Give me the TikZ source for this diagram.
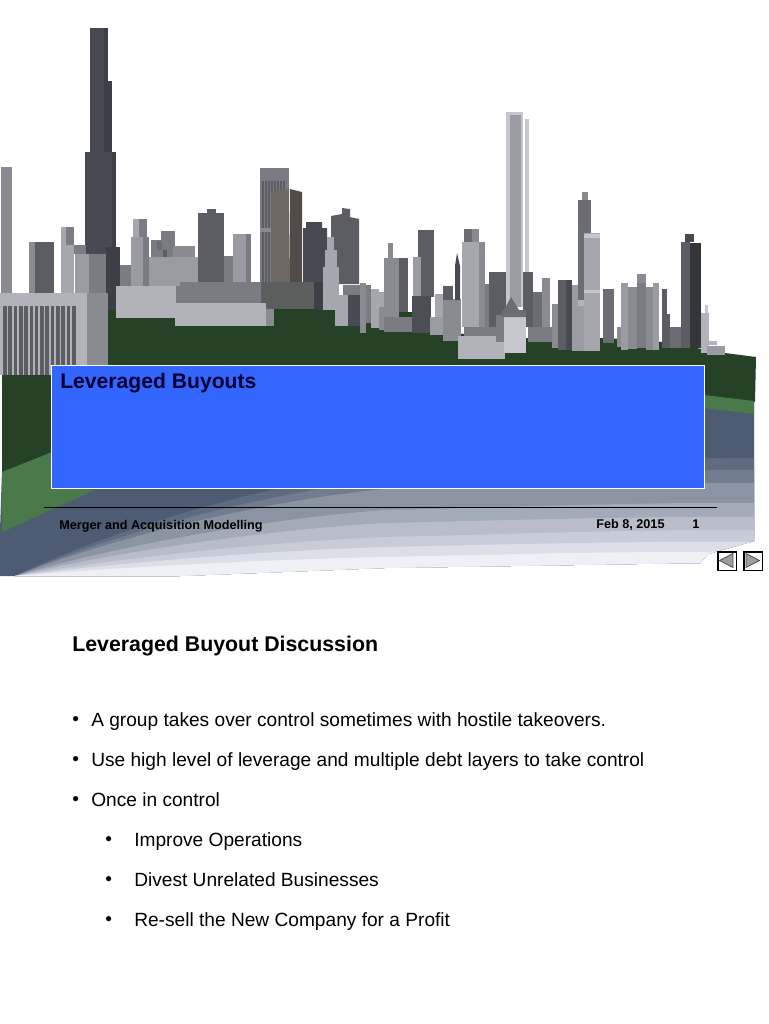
\documentclass[tikz,border=0pt]{standalone}
\usepackage{fontspec}
\setmainfont{Liberation Sans}
\definecolor{tonea}{HTML}{34363C}
\definecolor{toneb}{HTML}{474A52}
\definecolor{tonec}{HTML}{5B5D63}
\definecolor{toned}{HTML}{6C6D74}
\definecolor{tonee}{HTML}{7B7C83}
\definecolor{tonef}{HTML}{8A8B90}
\definecolor{toneg}{HTML}{9B9CA3}
\definecolor{toneh}{HTML}{A6A7AE}
\definecolor{tonei}{HTML}{B2B3BA}
\definecolor{tonej}{HTML}{C6C7CE}
\definecolor{toneslate}{HTML}{5A5E5C}
\definecolor{toneink}{HTML}{3D3F47}
\definecolor{toneplum}{HTML}{4C4E56}
\definecolor{brickface}{HTML}{6F6763}
\definecolor{brickside}{HTML}{524C48}
\definecolor{grassdark}{HTML}{254226}
\definecolor{grasslight}{HTML}{4A7A4A}
\definecolor{slidetitle}{HTML}{3366FF}
\definecolor{titleink}{HTML}{000033}
\definecolor{waterbase}{HTML}{4D5B73}
\definecolor{bandone}{HTML}{5E6B80}
\definecolor{bandtwo}{HTML}{717C8E}
\definecolor{bandthree}{HTML}{8A94A3}
\definecolor{bandfour}{HTML}{A3ABB8}
\definecolor{bandfive}{HTML}{B8BDC9}
\definecolor{bandsix}{HTML}{C8CCD7}
\definecolor{bandseven}{HTML}{DCDFE7}
\definecolor{bandeight}{HTML}{EFF0F6}
\tikzset{
  titletext/.style={anchor=base west,font=\bfseries\fontsize{15.85}{18}\selectfont,text=titleink,inner sep=0pt},
  foottext/.style={anchor=base west,font=\bfseries\fontsize{9.5}{11}\selectfont,text=black,inner sep=0pt},
  headtext/.style={anchor=base west,font=\bfseries\fontsize{16}{19}\selectfont,inner sep=0pt},
  listtext/.style={anchor=base west,font=\fontsize{14.35}{17}\selectfont,inner sep=0pt},
  navbox/.style={draw=black,line width=1.3pt,fill=white},
  navtip/.style={draw=black!70,line width=.6pt,fill=black!38}
}
\begin{document}
\begin{tikzpicture}[x=.75pt,y=-.75pt]
  \useasboundingbox (0,0) rectangle (768,1024);

  % water, fanning out from the lower left
  \begin{scope}
    \clip (0,530) -- (2,470) -- (60,449) -- (704,400) -- (754,400) -- (754,541) -- (708,554) -- (700,563) -- (384,568) -- (180,576) -- (0,576) -- cycle;
    \fill[waterbase] (0,400) rectangle (768,580);
    \foreach \bandcol/\ymid/\yend in {
        bandone/470/458, bandtwo/480/470, bandthree/489/483,
        bandfour/510/503, bandfive/523/517, bandsix/537/530,
        bandseven/547/542, bandeight/557/552} {
      \pgfmathsetmacro{\yctl}{\ymid+(576-\ymid)*.57}
      \pgfmathsetmacro{\yctr}{\ymid+(576-\ymid)*.14}
      \fill[\bandcol] (15,576)
        .. controls (110,\yctl) and (260,\yctr) .. (384,\ymid)
        .. controls (520,\ymid-3) and (640,\yend-1) .. (760,\yend)
        -- (760,580) -- (15,580) -- cycle;
    }
  \end{scope}

  % grass
  \fill[grassdark] (108,309) -- (330,309) -- (366,318) -- (384,324) -- (430,330) -- (500,338) -- (600,338) -- (650,340) -- (725,353) -- (756,357) -- (755,402) -- (704,396) -- (704,370) -- (108,370) -- cycle;
  \fill[grassdark] (399,312) rectangle (412,330);
  \fill[grasslight] (704,395) -- (754,401) -- (754,414) -- (704,408) -- cycle;
  \fill[grassdark] (2,375) -- (60,375) -- (60,449) -- (2,472) -- cycle;
  \fill[grasslight] (2,472) -- (60,449) -- (60,488) -- (95,490) -- (2,532) -- cycle;

  % skyline, back to front
  \foreach \bcol/\xa/\ya/\xb/\yb in {
      tonef/1/167/12/293, toneb/90/28/108/200, toneink/104/28/108/152, toneink/108/81/112/152,
      toneb/85/152/116/300, toneink/112/152/116/248, toneink/106/247/120/310,
      tonef/29/242/35/293, tonec/35/242/54/293,
      toneh/61/227/74/293, tonee/66/227/74/245, tonee/74/245/86/254,
      toneg/75/254/89/293, tonee/89/254/106/293,
      tonee/120/265/131/286, toneg/131/237/143/286, tonee/143/237/149/286,
      toneh/133/219/139/237, tonee/139/219/147/237,
      tonee/151/240/173/257, tonee/161/231/175/257, toned/157/241/162/250, tonec/163/250/167/257,
      tonef/173/246/195/257, toneg/149/257/215/286,
      tonec/198/213/224/282, tonec/207/209/216/213, tonee/224/256/235/282,
      toneg/233/234/246/282, tonee/246/234/251/282,
      tonee/260/168/289/282} {
    \fill[\bcol] (\xa,\ya) rectangle (\xb,\yb);
  }
  % ribs on the striped tower
  \foreach \ribx in {262,265,...,283} {
    \fill[tonec] (\ribx,181) rectangle (\ribx+1.6,282);
  }
  \fill[tonef] (260,228) rectangle (271,232);
  \fill[brickface] (271,192) -- (289,189) -- (290,282) -- (271,282) -- cycle;
  \fill[brickside] (290,189) -- (302,192) -- (302,282) -- (290,282) -- cycle;
  \fill[toneb] (303,228) -- (306,228) -- (306,222) -- (322,222) -- (322,228) -- (327,228) -- (327,283) -- (303,283) -- cycle;
  \fill[tonec] (331,216) -- (342,214) -- (342,208) -- (350,209) -- (350,217) -- (359,219) -- (359,284) -- (331,284) -- cycle;

  \foreach \bcol/\xa/\ya/\xb/\yb in {
      toneh/327/237/334/250, toneh/325/250/337/267, toneh/323/267/339/310,
      tonei/116/286/176/318, tonee/176/286/180/303, tonee/180/282/261/303,
      toneslate/261/282/314/309, toneink/314/282/323/310,
      tonei/175/303/266/326, tonef/266/309/274/326,
      toneh/335/295/348/326, toneb/348/295/360/326, tonee/343/285/367/295,
      tonef/360/283/366/333, tonee/366/285/371/323, toneh/371/289/379/328,
      toneh/379/292/384/330, tonef/379/307/384/330,
      % right half of the skyline
      tonef/388/243/393/258, tonef/384/258/399/317, tonec/399/258/408/312, tonee/384/317/417/332,
      tonec/418/230/434/297, toneg/413/257/421/297, toneplum/412/296/431/333,
      toneg/430/317/461/335, toneh/435/294/443/317, tonef/443/299/461/341, tonec/443/286/453/300,
      toneh/462/242/479/327, tonef/479/242/485/327, toned/464/229/472/242, tonef/472/229/479/242,
      tonee/485/284/490/327, tonec/489/272/506/327,
      tonej/506/112/523/307, toneg/510/115/521/307, tonej/525/119/529/320,
      tonec/523/272/533/327, toned/533/292/542/327, tonef/542/278/550/327,
      tonee/528/327/552/342, tonef/552/304/561/348, tonec/558/280/566/350,
      toneb/566/280/572/350, toneg/572/285/584/351,
      toned/578/200/591/300, tonef/582/192/588/200, tonei/578/300/584/306,
      toneh/584/233/600/351, tonej/584/234/600/238, tonej/584/290/600/293,
      toned/603/289/614/343,
      tonef/617/327/659/347, toneg/621/283/628/350, tonef/628/287/637/349,
      tonee/637/283/646/348, tonef/637/274/646/283, tonef/646/287/653/350, toneg/653/283/659/350,
      tonec/662/289/667/348, tonec/667/314/670/348, toned/670/327/681/348,
      tonec/681/242/690/348, tonea/690/243/701/348, toneb/685/234/694/242,
      tonej/705/305/708/313, tonei/701/313/709/353, tonei/709/341/717/345, toneg/707/346/725/355,
      tonee/464/327/497/336, tonei/458/336/505/359, tonee/496/315/505/342, tonej/504/317/526/353} {
    \fill[\bcol] (\xa,\ya) rectangle (\xb,\yb);
  }
  \fill[toned] (511,297) -- (519,310) -- (526,310) -- (526,317) -- (502,317) -- (502,310) -- (504,310) -- cycle;
  \fill[toneb] (455,266) -- (457,253) -- (460,266) -- (460,300) -- (455,300) -- cycle;

  % low block with the window grille
  \fill[tonei] (0,293) rectangle (87,375);
  \fill[tonef] (87,293) rectangle (108,370);
  \foreach \ribx in {3,8.3,...,75} {
    \fill[tonec] (\ribx,306) rectangle (\ribx+3.6,375);
  }

  % title panel and footer
  \node[draw=white,fill=slidetitle,line width=.8pt,minimum width=490pt,minimum height=92pt,inner sep=0pt,anchor=north west] (titlebox) at (51,365) {};
  \node[titletext] (slidename) at (60,388) {Leveraged Buyouts};
  \coordinate (ruleleft) at (44,507);
  \coordinate (ruleright) at (717,507);
  \draw[black,line width=.6pt] (ruleleft) -- (ruleright);
  \node[foottext] (course) at (59,529.5) {Merger and Acquisition Modelling};
  \node[foottext] (datestamp) at (596,528) {Feb 8, 2015};
  \node[foottext] (pagenum) at (692,528) {1};

  % previous / next buttons
  \node[navbox,minimum size=14pt,inner sep=0pt,anchor=north west] (prevbtn) at (717,551) {};
  \node[navbox,minimum size=14pt,inner sep=0pt,anchor=north west] (nextbtn) at (743,551) {};
  \draw[navtip] (719.5,560.5) -- (733,553.5) -- (733,567.5) -- cycle;
  \draw[navtip] (759.5,560.5) -- (746,553.5) -- (746,567.5) -- cycle;

  % discussion text
  \node[headtext] (heading) at (72,651) {Leveraged Buyout Discussion};
  \foreach \itemname/\bx/\tx/\by/\itemtext in {
      takeover/72/91/726/{A group takes over control sometimes with hostile takeovers.},
      leverage/72/91/766/{Use high level of leverage and multiple debt layers to take control},
      incontrol/72/91/806/{Once in control},
      operations/105/134/846/{Improve Operations},
      divest/105/134/886/{Divest Unrelated Businesses},
      resell/105/134/926/{Re-sell the New Company for a Profit}} {
    \node[listtext] (bul-\itemname) at (\bx,\by-1) {•};
    \node[listtext] (item-\itemname) at (\tx,\by) {\itemtext};
  }
\end{tikzpicture}
\end{document}
